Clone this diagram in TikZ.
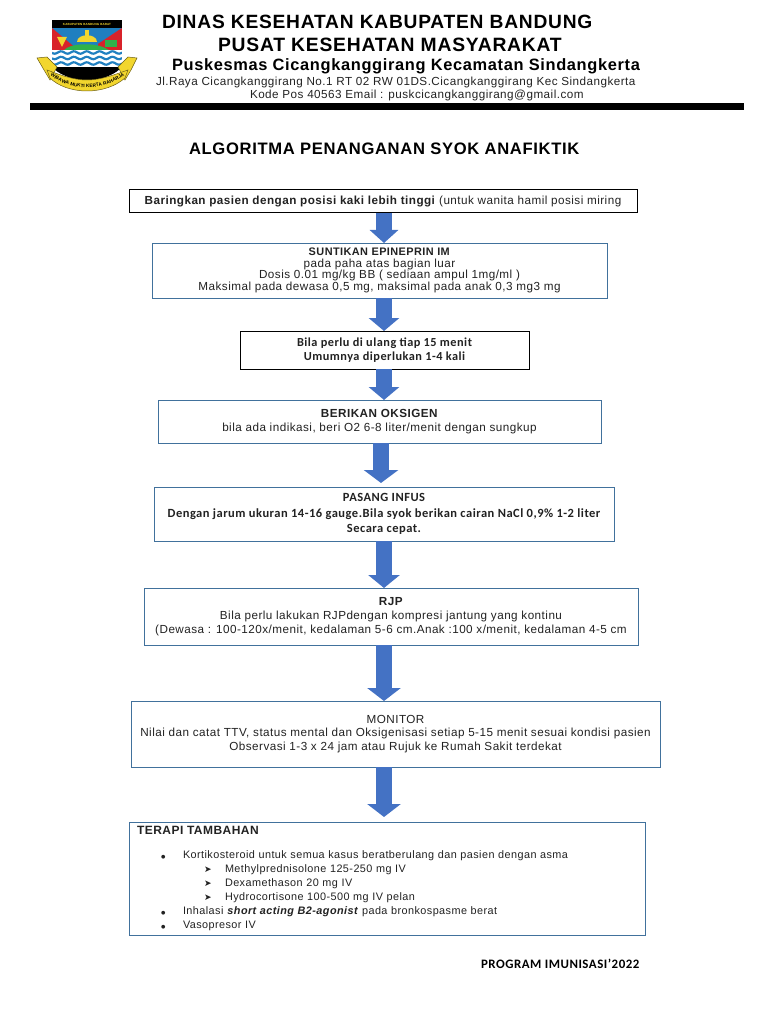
\documentclass[tikz,border=0pt]{standalone}
\usepackage{fontspec}
\usepackage{xcolor}
\usetikzlibrary{arrows.meta, positioning, decorations.text}
\setmainfont[LetterSpace=4]{Liberation Sans}
\newfontfamily\calfont[LetterSpace=4]{Carlito}
\newfontfamily\symfont{DejaVu Sans}
\definecolor{flowblue}{HTML}{4472C4}
\definecolor{boxblue}{HTML}{41719C}
\definecolor{ink}{HTML}{222222}
\definecolor{ribbon}{HTML}{F2D62E}
\definecolor{leaf}{HTML}{2FB24A}
\definecolor{flagred}{HTML}{D8232A}
\definecolor{sky}{HTML}{1F7FC0}
\newcommand{\fsz}[1]{\fontsize{#1}{#1}\selectfont}
\newcommand{\butir}[1]{\hspace*{24pt}\makebox[22pt][l]{\symfont\fsz{5}●}#1}
\newcommand{\subbutir}[1]{\hspace*{67pt}\makebox[21pt][l]{\symfont\fsz{9}➤}#1}

\begin{document}
\begin{tikzpicture}[
    x=1pt, y=-1pt,
    every node/.style={font=\fsz{11.7}, text=ink, inner sep=0pt, outer sep=0pt},
    head/.style={anchor=west, font=\fsz{#1}\bfseries, text=black},
    kecil/.style={anchor=west, font=\fsz{11.7}},
    bluebox/.style={draw=boxblue, line width=1pt, fill=white, align=center,
      minimum width=#1},
    blackbox/.style={draw=black, line width=1pt, fill=white, align=center,
      minimum width=#1},
    flow/.style={-{Triangle[length=13pt,width=#1]}, line width=16pt, flowblue},
    flow/.default=31pt
  ]
  \path[use as bounding box] (0,0) rectangle (768,1024);

  % logo
  \begin{scope}
    \clip (52,20) -- (122,20) -- (122,66) .. controls (118,74) and (100,80) .. (87,82)
      .. controls (74,80) and (56,74) .. (52,66) -- cycle;
    \fill[sky] (52,20) rectangle (122,52);
    \fill[flagred] (52,28) -- (78,50) -- (52,52) -- cycle;
    \fill[flagred] (122,28) -- (98,44) -- (98,52) -- (122,52) -- cycle;
    \fill[leaf] (63,51) .. controls (70,42) and (100,42) .. (110,51) -- cycle;
    \fill[ribbon] (77,42) .. controls (77,33) and (97,33) .. (97,42) -- cycle;
    \fill[ribbon] (85,36) rectangle (89,30);
    \fill[ribbon] (57,37) -- (67,37) -- (62,47) -- cycle;
    \fill[leaf] (105,40) rectangle (117,47);
    \fill[white] (52,50) rectangle (122,70);
    \foreach \wy in {52.5,58,63.5}
      \draw[sky, line width=2.2pt] plot[domain=52:122, samples=50]
        (\x, {\wy+1.2*sin(\x*28)});
    \fill[black] (52,67.5) rectangle (122,84);
    \fill[black] (52,20) rectangle (122,28);
  \end{scope}
  \node[font=\fsz{3}\bfseries, text=ribbon] (kab) at (87,24) {KABUPATEN BANDUNG BARAT};
  \filldraw[fill=ribbon, draw=black!55!ribbon, line width=0.5pt]
    (37,58) -- (47,57) -- (57,67) -- (50,80) -- (44,70) -- cycle;
  \filldraw[fill=ribbon, draw=black!55!ribbon, line width=0.5pt]
    (137,58) -- (128,57) -- (118,67) -- (125,80) -- (131,70) -- cycle;
  \filldraw[fill=ribbon, draw=black!55!ribbon, line width=0.5pt]
    (47,70) .. controls (58,74) and (72,80) .. (87,80)
    .. controls (102,80) and (116,74) .. (128,70) -- (125,78)
    .. controls (116,86) and (102,91) .. (87,91)
    .. controls (72,91) and (58,86) .. (50,78) -- cycle;
  \path[decorate, decoration={text along path, text align=center,
      text={|\fsz{4.7}\bfseries\color{black}|WIBAWA MUKTI KERTA RAHARJA}}]
    (49,75) .. controls (60,83) and (74,87.5) .. (87,87.5)
    .. controls (100,87.5) and (114,83) .. (126,75);

  % kop
  \node[head=19.2] (dinas) at (162,22) {DINAS KESEHATAN KABUPATEN BANDUNG};
  \node[head=19.3] (pusat) at (218,45) {PUSAT KESEHATAN MASYARAKAT};
  \node[head=16.4] (puskesmas) at (172,66) {Puskesmas Cicangkanggirang Kecamatan Sindangkerta};
  \node[kecil] (alamat) at (156,82) {Jl.Raya Cicangkanggirang No.1 RT 02 RW 01DS.Cicangkanggirang Kec Sindangkerta};
  \node[kecil] (kodepos) at (250,95) {Kode Pos 40563 Email : puskcicangkanggirang@gmail.com};
  \node[fill=black, minimum width=714pt, minimum height=7pt] (garis) at (387,106.5) {};
  \node[head=16.6] (judul) at (189,149) {ALGORITMA PENANGANAN SYOK ANAFIKTIK};

  % kotak
  \node[blackbox=508pt, minimum height=23pt] (baring) at (383,201.5)
    {\textbf{Baringkan pasien dengan posisi kaki lebih tinggi} (untuk wanita hamil posisi miring};
  \node[bluebox=455pt, minimum height=55pt, below=30pt of baring, xshift=-3.5pt] (epi)
    {{\fsz{10.9}\textbf{SUNTIKAN EPINEPRIN IM}}\\ pada paha atas bagian luar\\
     \hspace*{20pt}Dosis 0.01 mg/kg BB ( sediaan ampul 1mg/ml )\\
     Maksimal pada dewasa 0,5 mg, maksimal pada anak 0,3 mg3 mg};
  \node[blackbox=289pt, minimum height=38pt, below=33pt of epi, xshift=5pt,
      font=\fsz{12.3}\calfont\bfseries] (ulang)
    {Bila perlu di ulang tiap 15 menit\\[2pt] Umumnya diperlukan 1-4 kali};
  \node[bluebox=443pt, minimum height=43pt, below=31pt of ulang, xshift=-5pt] (oksigen)
    {\textbf{BERIKAN OKSIGEN}\\[2pt] bila ada indikasi, beri O2 6-8 liter/menit dengan sungkup};
  \node[bluebox=460pt, minimum height=54pt, below=44pt of oksigen, xshift=4.5pt,
      font=\fsz{12.5}\calfont\bfseries] (infus)
    {PASANG INFUS\\[3pt] Dengan jarum ukuran 14-16 gauge.Bila syok berikan cairan NaCl 0,9\% 1-2 liter\\[3pt] Secara cepat.};
  \node[bluebox=494pt, minimum height=57pt, below=47pt of infus, xshift=7pt] (rjp)
    {\textbf{RJP}\\[2pt] Bila perlu lakukan RJPdengan kompresi jantung yang kontinu\\[2pt]
     (Dewasa : 100-120x/menit, kedalaman 5-6 cm.Anak :100 x/menit, kedalaman 4-5 cm};
  \node[bluebox=529pt, minimum height=66pt, below=56pt of rjp, xshift=4.5pt] (monitor)
    {MONITOR\\[2pt] Nilai dan catat TTV, status mental dan Oksigenisasi setiap 5-15 menit sesuai kondisi pasien\\[2pt]
     Observasi 1-3 x 24 jam atau Rujuk ke Rumah Sakit terdekat};
  \node[draw=boxblue, line width=1pt, fill=white, text width=500pt, align=left,
      font=\fsz{10.85}, minimum width=516pt, minimum height=113pt, below=55pt of monitor, xshift=-8.5pt] (terapi)
    {{\fsz{12}\textbf{TERAPI TAMBAHAN}}\\[13pt]
     \butir{Kortikosteroid untuk semua kasus beratberulang dan pasien dengan asma}\\[3pt]
     \subbutir{Methylprednisolone 125-250 mg IV}\\[3pt]
     \subbutir{Dexamethason 20 mg IV}\\[3pt]
     \subbutir{Hydrocortisone 100-500 mg IV pelan}\\[3pt]
     \butir{Inhalasi \textbf{\textit{short acting B2-agonist}} pada bronkospasme berat}\\[3pt]
     \butir{Vasopresor IV}};
  \node[anchor=west, font=\fsz{12.9}\calfont\bfseries, text=black] (program) at (481,964) {PROGRAM IMUNISASI’2022};

  % panah
  \coordinate (poros) at (384,0);
  \coordinate (porosb) at (381,0);
  \draw[flow=28pt] (baring.south -| poros) -- (epi.north -| poros);
  \draw[flow=30pt] (epi.south -| poros) -- (ulang.north -| poros);
  \draw[flow=30pt] (ulang.south -| poros) -- (oksigen.north -| poros);
  \draw[flow=34pt, shorten >=4pt] (oksigen.south -| porosb) -- (infus.north -| porosb);
  \draw[flow] (infus.south -| poros) -- (rjp.north -| poros);
  \draw[flow=33pt] (rjp.south -| poros) -- (monitor.north -| poros);
  \draw[flow=33pt, shorten >=5pt] (monitor.south -| poros) -- (terapi.north -| poros);
\end{tikzpicture}
\end{document}
